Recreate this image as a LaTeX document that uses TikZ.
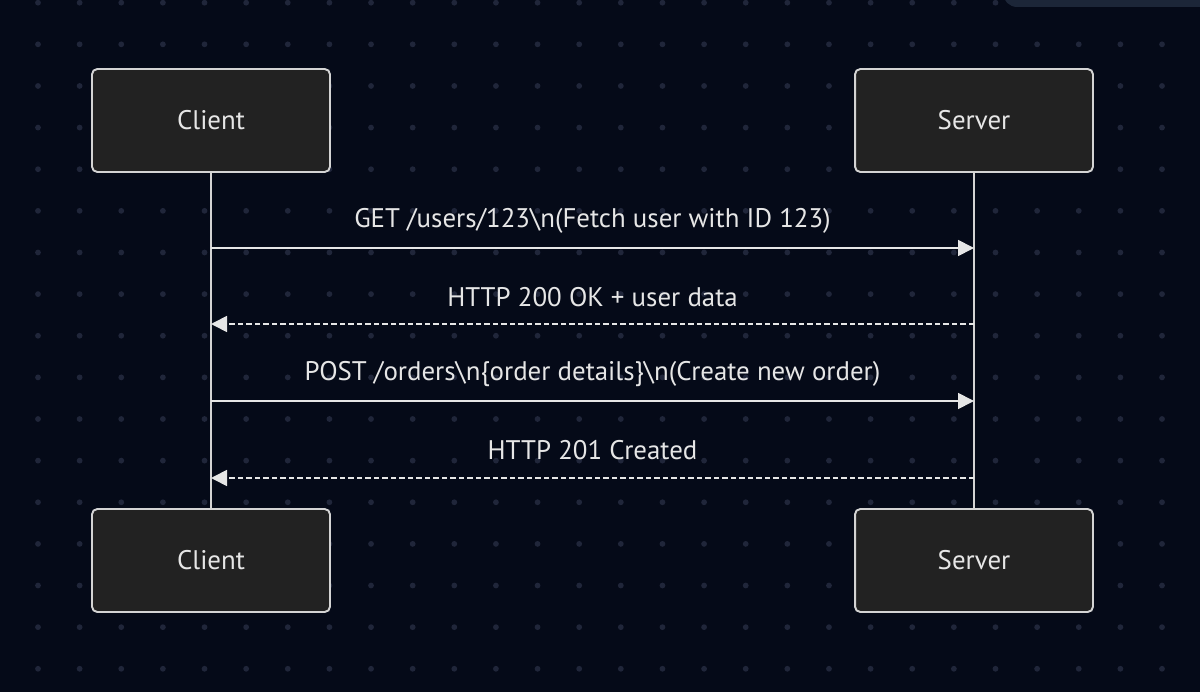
\documentclass[tikz,border=0pt]{standalone}
\usepackage{xcolor}
\usepackage{tikz}
\usetikzlibrary{calc,arrows.meta}
\usepackage{fontspec}
\setmainfont{PT Sans}

\definecolor{bgdark}{HTML}{050A18}
\definecolor{griddot}{HTML}{20263A}
\definecolor{panelblue}{HTML}{1C2638}
\definecolor{boxfill}{HTML}{222222}
\definecolor{boxline}{HTML}{D4D4D4}
\definecolor{msgtext}{HTML}{E6E6E6}

\tikzset{%
  actor/.style={draw=boxline, fill=boxfill, line width=1.1pt, rounded corners=3pt,
    minimum width=4.76cm, minimum height=2.06cm, text=msgtext, font=\fontsize{15.3}{18}\selectfont},
  lifeline/.style={draw=boxline, line width=1.3pt},
  callmsg/.style={draw=msgtext, line width=1pt, -{Triangle[length=0.32cm,width=0.32cm]}},
  replymsg/.style={callmsg, dash pattern=on 0.11cm off 0.06cm},
  msglabel/.style={text=msgtext, font=\fontsize{15.3}{18}\selectfont, inner sep=0pt},
}

\begin{document}
\begin{tikzpicture}[x=0.02cm, y=-0.02cm]
      % canvas and dot grid
      \fill[bgdark] (0,0) rectangle (1200,692);%
      \useasboundingbox (0,0) rectangle (1200,692);%
      \foreach \i in {0,...,28} { \foreach \j in {0,...,16} {%
          \fill[griddot] (38+41.63*\i, 2.7+41.63*\j) circle (0.058cm); } }%
      \fill[panelblue, rounded corners=8pt] (1003,-20) rectangle (1220,7);%

      % participants
      \def\clx{211} \def\svx{974}%
      \node[actor] (client_top) at (\clx,120.5) {Client};%
      \node[actor] (server_top) at (\svx,120.5) {Server};%
      \node[actor] (client_bot) at (\clx,560.5) {Client};%
      \node[actor] (server_bot) at (\svx,560.5) {Server};%

      \draw[lifeline] (client_top.south) -- (client_bot.north);%
      \draw[lifeline] (server_top.south) -- (server_bot.north);%

      % message rows
      \foreach \k/\yy in {1/248, 2/324, 3/401, 4/478} {%
        \coordinate (c_\k) at (\clx,\yy); \coordinate (s_\k) at (\svx,\yy); }%

      \draw[callmsg] (c_1) -- (s_1);%
      \draw[replymsg] (s_2) -- (c_2);%
      \draw[callmsg] (c_3) -- (s_3);%
      \draw[replymsg] (s_4) -- (c_4);%

      \node[msglabel] (m_1) at ($(c_1)!0.5!(s_1)+(0,-27)$) {GET /users/123\textbackslash n(Fetch user with ID 123)};%
      \node[msglabel] (m_2) at ($(c_2)!0.5!(s_2)+(0,-27)$) {HTTP 200 OK + user data};%
      \node[msglabel] (m_3) at ($(c_3)!0.5!(s_3)+(0,-27)$) {POST /orders\textbackslash n\{order details\}\textbackslash n(Create new order)};%
      \node[msglabel] (m_4) at ($(c_4)!0.5!(s_4)+(0,-28)$) {HTTP 201 Created};%
    \end{tikzpicture}
\end{document}
